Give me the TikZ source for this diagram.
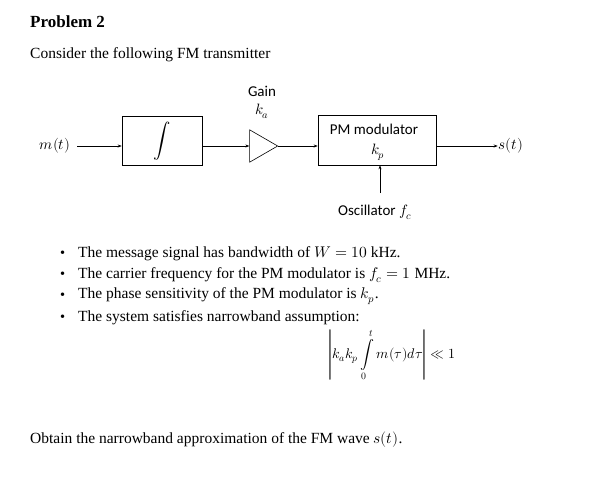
\documentclass[tikz,border=0pt]{standalone}
\usepackage{amsmath}
\usepackage{fontspec}
\usepackage{unicode-math}
\setmainfont{Liberation Serif}
\setmathfont{Latin Modern Math}
\newfontfamily\calib{Carlito}
\usetikzlibrary{arrows.meta, positioning, shapes.geometric}
\begin{document}
\begin{tikzpicture}[x=1pt,y=1pt,yscale=-1,xscale=1,
  blk/.style={draw, line width=0.6pt, fill=white},
  sig/.style={-{Stealth[length=4pt,width=3pt]}, line width=0.6pt},
  txt/.style={anchor=west, inner sep=0pt, font=\fontsize{15.5}{18}\selectfont},
  lbl/.style={inner sep=1pt, font=\calib\fontsize{15}{17}\selectfont}]
\useasboundingbox (0,0) rectangle (600,491);
%Text: heading
\node [txt, font=\bfseries\fontsize{17}{19}\selectfont] (head) at (30,22) {Problem 2};
\node [txt] (intro) at (30,55) {Consider the following FM transmitter};
%Shape: blocks
\node [lbl] (msg) at (55,146) {$m(t)$};
\node [blk, minimum width=80pt, minimum height=49pt] (integ) at (162,141) {\LARGE$\displaystyle\int$};
\node [blk, isosceles triangle, isosceles triangle apex angle=60, minimum height=28pt, inner sep=0pt] (gain) at (259,146) {};
\node [lbl] (gainname) at (262,91) {Gain};
\node [lbl] (gainval) at (262,111) {$k_a$};
\node [blk, minimum width=118pt, minimum height=50pt] (pm) at (377,140) {};
\node [lbl] (pmname) at (374,129) {PM modulator};
\node [lbl] (pmk) at (378,152) {$k_p$};
\node [lbl] (out) at (511,146) {$s(t)$};
\node [lbl, anchor=west] (osc) at (337,212) {Oscillator $f_c$};
\coordinate (oscin) at (380,193);
%Straight Lines
\draw [sig] ([xshift=6pt]msg.east) -- (integ.west |- msg.east);
\draw [sig] (integ.east |- msg.east) -- (gain.west);
\draw [sig] (gain.east) -- (pm.west |- msg.east);
\draw [sig] (pm.east |- msg.east) -- (out.west);
\draw [sig] (oscin) -- (oscin |- pm.south);
%Text: bullets
\foreach \yy/\tx in {254/{The message signal has bandwidth of $W=10$ kHz.},
  275/{The carrier frequency for the PM modulator is $f_c=1$ MHz.},
  296/{The phase sensitivity of the PM modulator is $k_p$.},
  318/{The system satisfies narrowband assumption:}}
  {\node [txt] at (60,\yy) {\Large\textbullet};
   \node [txt] at (78,\yy) {\tx};}
\node [inner sep=0pt, font=\fontsize{14}{16}\selectfont] (eq) at (392,355) {$\left|k_ak_p\displaystyle\int\limits_0^t m(\tau)d\tau\right|\ll 1$};
\node [txt] (final) at (30,440) {Obtain the narrowband approximation of the FM wave $s(t)$.};
\end{tikzpicture}
\end{document}
